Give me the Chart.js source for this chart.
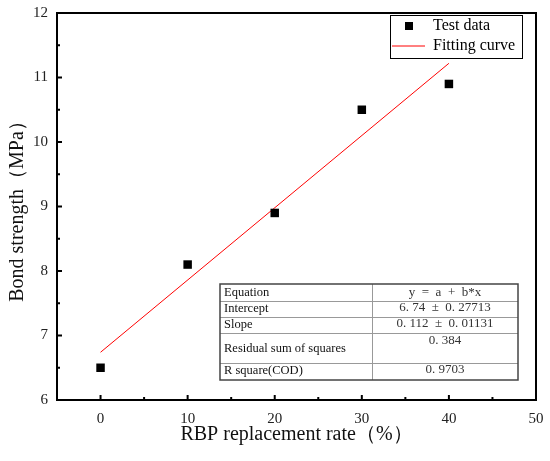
<!DOCTYPE html>
<html>
<head>
<meta charset="utf-8">
<script src="https://cdn.jsdelivr.net/npm/chart.js@4"></script>
<style>
  html, body { margin: 0; padding: 0; background: #fff; }
  #wrap { width: 550px; height: 461px; }
</style>
</head>
<body>
<div id="wrap"><canvas id="c" width="550" height="461"></canvas></div>
<script>
// ---- data ----
const rates = [0, 10, 20, 30, 40];
const strength = [6.5, 8.1, 8.9, 10.5, 10.9];
const fitX = [0, 40];
const fitY = [6.74, 11.22];
const xTicks = [0, 10, 20, 30, 40, 50];
const xMinor = [5, 15, 25, 35, 45];
const yTicks = [6, 7, 8, 9, 10, 11, 12];
const yMinor = [6.5, 7.5, 8.5, 9.5, 10.5, 11.5];
const legendLabels = ['Test data', 'Fitting curve'];
const tableLabels = ['Equation', 'Intercept', 'Slope', 'Residual sum of squares', 'R square(COD)'];
const tableValues = ['y  =  a  +  b*x', '6. 74  \u00B1  0. 27713', '0. 112  \u00B1  0. 01131', '0. 384', '0. 9703'];

const SERIF = '"Liberation Serif", "Times New Roman", serif';

const framePlugin = {
  id: 'frame',
  afterDatasetsDraw(chart) {
    const { ctx, chartArea: a, scales: { x, y } } = chart;
    ctx.save();
    // inward ticks
    ctx.strokeStyle = '#000';
    ctx.lineWidth = 2;
    ctx.beginPath();
    xTicks.forEach(v => { const px = x.getPixelForValue(v); ctx.moveTo(px, a.bottom); ctx.lineTo(px, a.bottom - 5); });
    xMinor.forEach(v => { const px = x.getPixelForValue(v); ctx.moveTo(px, a.bottom); ctx.lineTo(px, a.bottom - 3); });
    yTicks.forEach(v => { const py = y.getPixelForValue(v); ctx.moveTo(a.left, py); ctx.lineTo(a.left + 5, py); });
    yMinor.forEach(v => { const py = y.getPixelForValue(v); ctx.moveTo(a.left, py); ctx.lineTo(a.left + 3, py); });
    ctx.stroke();
    // frame
    ctx.lineWidth = 2;
    ctx.strokeRect(a.left, a.top, a.right - a.left, a.bottom - a.top);

    // legend
    const lx = 390, ly = 15, lw = 132, lh = 43;
    ctx.fillStyle = '#fff';
    ctx.fillRect(lx, ly, lw, lh);
    ctx.lineWidth = 1;
    ctx.strokeStyle = '#000';
    ctx.strokeRect(lx + 0.5, ly + 0.5, lw, lh);
    ctx.fillStyle = '#000';
    ctx.fillRect(405, 22, 8, 8);
    ctx.strokeStyle = '#ff0000';
    ctx.beginPath(); ctx.moveTo(392, 46); ctx.lineTo(425, 46); ctx.stroke();
    ctx.fillStyle = '#000';
    ctx.font = '16px ' + SERIF;
    ctx.textBaseline = 'middle';
    ctx.textAlign = 'left';
    ctx.fillText(legendLabels[0], 433, 26);
    ctx.fillText(legendLabels[1], 433, 46);

    // table
    const tl = 220, tt = 284, tr = 518, tb = 380, tc = 372;
    const rowLines = [301, 317, 333, 363];
    ctx.fillStyle = '#fff';
    ctx.fillRect(tl, tt, tr - tl, tb - tt);
    ctx.strokeStyle = '#999';
    ctx.lineWidth = 1;
    ctx.beginPath();
    rowLines.forEach(ry => { ctx.moveTo(tl, ry + 0.5); ctx.lineTo(tr, ry + 0.5); });
    ctx.moveTo(tc + 0.5, tt); ctx.lineTo(tc + 0.5, tb);
    ctx.stroke();
    ctx.strokeStyle = '#444';
    ctx.lineWidth = 1.5;
    ctx.strokeRect(tl, tt, tr - tl, tb - tt);
    const labY = [293, 309, 325, 349, 371];
    const valY = [293, 308, 324, 341, 370];
    ctx.fillStyle = '#111';
    ctx.font = '12.5px ' + SERIF;
    ctx.textAlign = 'left';
    tableLabels.forEach((t, i) => ctx.fillText(t, tl + 4, labY[i]));
    ctx.fillStyle = '#333';
    ctx.font = '13px ' + SERIF;
    ctx.textAlign = 'center';
    tableValues.forEach((t, i) => ctx.fillText(t, (tc + tr) / 2, valY[i]));
    ctx.restore();
  }
};

function zeroPad(s) { s.paddingTop = 0; s.paddingBottom = 0; s.paddingLeft = 0; s.paddingRight = 0; }

new Chart(document.getElementById('c'), {
  type: 'scatter',
  data: {
    datasets: [
      {
        label: legendLabels[0],
        data: rates.map((r, i) => ({ x: r, y: strength[i] })),
        pointStyle: 'rect',
        pointRadius: 6,
        pointBorderWidth: 0,
        backgroundColor: '#000',
        borderColor: '#000'
      },
      {
        label: legendLabels[1],
        type: 'line',
        data: fitX.map((r, i) => ({ x: r, y: fitY[i] })),
        borderColor: '#ff0000',
        borderWidth: 1,
        pointRadius: 0,
        fill: false
      }
    ]
  },
  options: {
    responsive: false,
    animation: false,
    events: [],
    layout: { padding: { top: 13, right: 14, left: 0, bottom: 0 } },
    plugins: { legend: { display: false }, tooltip: { enabled: false } },
    scales: {
      x: {
        type: 'linear',
        min: -5, max: 50,
        grid: { display: false, drawTicks: false },
        border: { display: false },
        afterBuildTicks: s => { s.ticks = xTicks.map(v => ({ value: v })); },
        afterFit: s => { s.height = 61; zeroPad(s); },
        ticks: { padding: 10, color: '#222', font: { family: SERIF, size: 15 } },
        title: { display: true, text: 'RBP replacement rate（%）', color: '#111',
                 font: { family: SERIF, size: 20 }, padding: { top: 0, bottom: 14 } }
      },
      y: {
        type: 'linear',
        min: 6, max: 12,
        grid: { display: false, drawTicks: false },
        border: { display: false },
        afterBuildTicks: s => { s.ticks = yTicks.map(v => ({ value: v })); },
        afterFit: s => { s.width = 57; zeroPad(s); },
        ticks: { padding: 9, color: '#222', font: { family: SERIF, size: 15 } },
        title: { display: true, text: 'Bond strength（MPa）', color: '#111',
                 font: { family: SERIF, size: 20 }, padding: { top: 6, bottom: 0 } }
      }
    }
  },
  plugins: [framePlugin]
});
</script>
</body>
</html>
